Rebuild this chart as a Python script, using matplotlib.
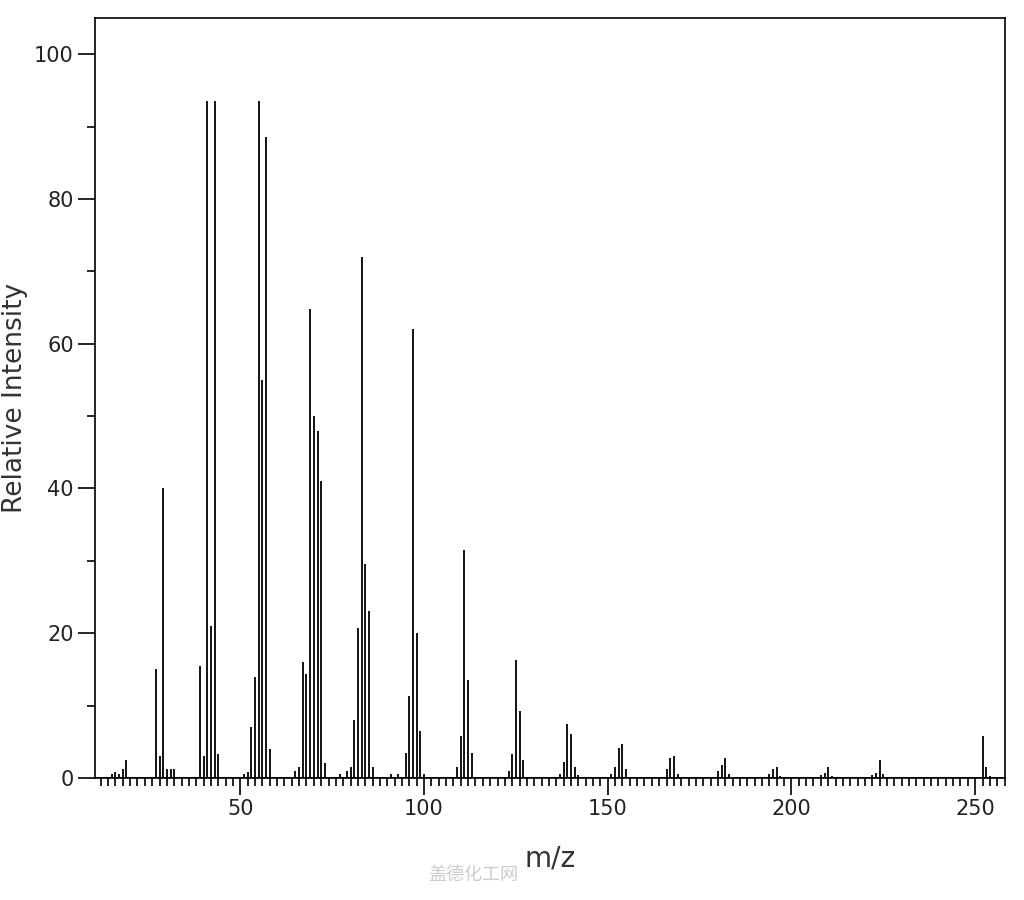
import numpy as np
import matplotlib.pyplot as plt
from matplotlib.ticker import MultipleLocator

# peaks: m/z and relative intensity
mz = [15, 16, 17, 18, 19, 27, 28, 29, 30, 31, 32,
      39, 40, 41, 42, 43, 44,
      51, 52, 53, 54, 55, 56, 57, 58,
      65, 66, 67, 68, 69, 70, 71, 72, 73,
      77, 79, 80, 81, 82, 83, 84, 85, 86,
      91, 93, 95, 96, 97, 98, 99, 100,
      109, 110, 111, 112, 113,
      123, 124, 125, 126, 127,
      137, 138, 139, 140, 141, 142,
      151, 152, 153, 154, 155,
      166, 167, 168, 169,
      180, 181, 182, 183,
      194, 195, 196, 197,
      208, 209, 210, 211,
      222, 223, 224, 225,
      252, 253, 254]
intensity = [0.5, 0.8, 0.6, 1.2, 2.5, 15, 3, 40, 1.2, 1.2, 1.2,
             15.5, 3, 93.6, 21, 93.6, 3.3,
             0.5, 0.8, 7, 14, 93.6, 55, 88.5, 4,
             1, 1.5, 16, 14.3, 64.8, 50, 48, 41, 2,
             0.5, 1, 1.5, 8, 20.7, 72, 29.5, 23, 1.5,
             0.5, 0.5, 3.5, 11.3, 62, 20, 6.5, 0.5,
             1.5, 5.8, 31.5, 13.5, 3.5,
             1, 3.3, 16.3, 9.2, 2.5,
             0.5, 2.2, 7.5, 6.1, 1.5, 0.4,
             0.5, 1.5, 4.2, 4.7, 1.2,
             1.2, 2.8, 3.1, 0.6,
             1, 1.8, 2.8, 0.6,
             0.6, 1.2, 1.5, 0.3,
             0.4, 0.7, 1.5, 0.3,
             0.4, 0.7, 2.5, 0.6,
             5.8, 1.5, 0.3]

fig = plt.figure(figsize=(10.24, 9), dpi=100)
ax = fig.add_axes([0.093, 0.1356, 0.888, 0.8444])
ax.vlines(mz, 0, intensity, colors='black', linewidth=1.3)
ax.axhline(0, color='black', linewidth=1.2)

ax.set_xlim(10.5, 258)
ax.set_ylim(0, 105)
ax.xaxis.set_major_locator(MultipleLocator(50))
ax.xaxis.set_minor_locator(MultipleLocator(2))
ax.yaxis.set_major_locator(MultipleLocator(20))
ax.yaxis.set_minor_locator(MultipleLocator(10))
ax.tick_params(axis='both', which='major', direction='out', length=12, width=1.2, labelsize=15,
               labelcolor='#222222')
ax.tick_params(axis='both', which='minor', direction='out', length=6, width=1.2)
for s in ax.spines.values():
    s.set_linewidth(1.2)

ax.set_xlabel('m/z', fontsize=20, labelpad=18, color='#333333')
ax.set_ylabel('Relative Intensity', fontsize=19, labelpad=4, color='#333333')

# faint watermark left of the axis label
fig.text(0.462, 0.028, '盖德化工网', ha='center', va='center', fontsize=13,
         color='#cccccc', family=['Noto Sans CJK SC', 'DejaVu Sans'])

plt.savefig('out.png', dpi=100)
